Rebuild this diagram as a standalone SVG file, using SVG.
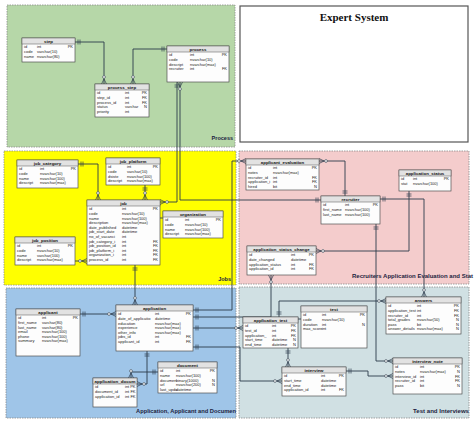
<svg xmlns="http://www.w3.org/2000/svg" width="474" height="440" viewBox="0 0 474 440">
<defs>
<style>
.t{font-family:"Liberation Sans",Arial,sans-serif;font-size:4px;fill:#222}
.k{text-anchor:end}
.h{font-family:"Liberation Sans",Arial,sans-serif;font-weight:bold;font-size:4.4px;fill:#111;text-anchor:middle}
.box{fill:#fdfdfd;stroke:#505050;stroke-width:0.7}
.hd{fill:#e2e2e2;stroke:#505050;stroke-width:0.5}
.c{fill:none;stroke:#2b3a4a;stroke-width:0.9}
.rg{stroke:#8a8a8a;stroke-width:0.8;stroke-dasharray:1.5 1}
.lbl{font-family:"Liberation Sans",Arial,sans-serif;font-weight:bold;font-size:5.5px;fill:#1c2340}
</style>
<marker id="one" viewBox="-7 -4 8 8" markerWidth="8" markerHeight="8" refX="0" refY="0" orient="auto-start-reverse" markerUnits="userSpaceOnUse">
<path d="M-3,-2.5V2.5M-5,-2.5V2.5" stroke="#2b3a4a" stroke-width="0.7" fill="none"/>
</marker>
<marker id="many" viewBox="-10 -4 11 8" markerWidth="11" markerHeight="8" refX="0" refY="0" orient="auto" markerUnits="userSpaceOnUse">
<path d="M-5,0L0,-2.5M-5,0L0,2.5" stroke="#2b3a4a" stroke-width="0.7" fill="none"/>
<circle cx="-7" cy="0" r="1.4" fill="#fff" stroke="#2b3a4a" stroke-width="0.6"/>
</marker>
</defs>
<rect width="474" height="440" fill="#fff"/>
<g id="regions">
<rect class="rg" x="7" y="5" width="228" height="142" fill="#b6d7a8"/>
<rect class="rg" x="4" y="151" width="232" height="134" fill="#ffff00"/>
<rect class="rg" x="239" y="151" width="230" height="133" fill="#f4cccc"/>
<rect class="rg" x="6" y="288" width="230" height="130" fill="#9fc5e8"/>
<rect class="rg" x="239" y="287" width="230" height="131" fill="#d0e0e3"/>
<text class="lbl" x="233" y="140" text-anchor="end">Process</text>
<text class="lbl" x="231" y="281" text-anchor="end">Jobs</text>
<text class="lbl" x="352" y="278" textLength="121" lengthAdjust="spacingAndGlyphs">Recruiters Application Evaluation and Stat</text>
<text class="lbl" x="136" y="413" textLength="100" lengthAdjust="spacingAndGlyphs">Application, Applicant and Documen</text>
<text class="lbl" x="413" y="413" textLength="56" lengthAdjust="spacingAndGlyphs">Test and Interviews</text>
</g>
<g id="expert-system">
<rect x="240" y="6" width="228" height="136" fill="#fff" stroke="#555" stroke-width="1.2"/>
<text x="354" y="21" text-anchor="middle" font-family="Liberation Serif, Times New Roman, serif" font-weight="bold" font-size="11" fill="#111">Expert System</text>
</g>
<g id="connectors">
<path class="c" d="M75,42H104V84" marker-start="url(#one)" marker-end="url(#many)"/>
<path class="c" d="M167,49H133V84" marker-start="url(#one)" marker-end="url(#many)"/>
<path class="c" d="M177,82V202H160" marker-start="url(#one)" marker-end="url(#many)"/>
<path class="c" d="M321,200H180V82" marker-start="url(#one)" marker-end="url(#many)"/>
<path class="c" d="M78,164H98V200" marker-start="url(#one)" marker-end="url(#many)"/>
<path class="c" d="M145,185V200" marker-start="url(#one)" marker-end="url(#many)"/>
<path class="c" d="M75,261H87" marker-end="url(#many)"/>
<path class="c" d="M163,218H160"/>
<path class="c" d="M135,265V305" marker-start="url(#one)" marker-end="url(#many)"/>
<path class="c" d="M193,310H232V161H246" marker-start="url(#one)" marker-end="url(#many)"/>
<path class="c" d="M80,314H116" marker-start="url(#one)" marker-end="url(#many)"/>
<path class="c" d="M193,317H271V275" marker-start="url(#one)" marker-end="url(#many)"/>
<path class="c" d="M193,328H243" marker-start="url(#one)" marker-end="url(#many)"/>
<path class="c" d="M193,347H240V381H282" marker-start="url(#one)" marker-end="url(#many)"/>
<path class="c" d="M147,351V384H137" marker-start="url(#one)" marker-end="url(#many)"/>
<path class="c" d="M158,372H131V378" marker-start="url(#one)" marker-end="url(#many)"/>
<path class="c" d="M345,196V161H319" marker-start="url(#one)" marker-end="url(#many)"/>
<path class="c" d="M380,199H424V297" marker-start="url(#one)" marker-end="url(#many)"/>
<path class="c" d="M376,224V361H393" marker-start="url(#one)" marker-end="url(#many)"/>
<path class="c" d="M409,191V251H316" marker-start="url(#one)" marker-end="url(#many)"/>
<path class="c" d="M279,317V301H386" marker-start="url(#one)" marker-end="url(#many)"/>
<path class="c" d="M301,319H298"/>
<path class="c" d="M288,348V367" marker-start="url(#one)" marker-end="url(#many)"/>
<path class="c" d="M346,371H368V376H393" marker-start="url(#one)" marker-end="url(#many)"/>
</g>
<g id="step" transform="translate(22,38)">
<rect class="box" width="53" height="24"/><rect class="hd" width="53" height="6"/><text class="h" x="26.5" y="4.6">step</text>
<text class="t"><tspan x="2" y="10.3">id</tspan><tspan x="2" y="14.9">code</tspan><tspan x="2" y="19.5">name</tspan></text>
<text class="t"><tspan x="15" y="10.3">int</tspan><tspan x="15" y="14.9">varchar(10)</tspan><tspan x="15" y="19.5">nvarchar(80)</tspan></text>
<text class="t k"><tspan x="51" y="10.3">PK</tspan></text>
</g>
<g id="process" transform="translate(167,46)">
<rect class="box" width="62" height="36"/><rect class="hd" width="62" height="6"/><text class="h" x="31" y="4.6">process</text>
<text class="t"><tspan x="2" y="10.3">id</tspan><tspan x="2" y="14.9">code</tspan><tspan x="2" y="19.5">descript</tspan><tspan x="2" y="24.1">recruiter</tspan></text>
<text class="t"><tspan x="23" y="10.3">int</tspan><tspan x="23" y="14.9">nvarchar(10)</tspan><tspan x="23" y="19.5">nvarchar(max)</tspan><tspan x="23" y="24.1">int</tspan></text>
<text class="t k"><tspan x="60" y="10.3">PK</tspan><tspan x="60" y="24.1">FK</tspan></text>
</g>
<g id="process_step" transform="translate(95,84)">
<rect class="box" width="54" height="33"/><rect class="hd" width="54" height="6"/><text class="h" x="27" y="4.6">process_step</text>
<text class="t"><tspan x="2" y="10.3">id</tspan><tspan x="2" y="14.9">step_id</tspan><tspan x="2" y="19.5">process_id</tspan><tspan x="2" y="24.1">status</tspan><tspan x="2" y="28.7">priority</tspan></text>
<text class="t"><tspan x="30" y="10.3">int</tspan><tspan x="30" y="14.9">int</tspan><tspan x="30" y="19.5">int</tspan><tspan x="30" y="24.1">varchar</tspan><tspan x="30" y="28.7">int</tspan></text>
<text class="t k"><tspan x="52" y="10.3">PK</tspan><tspan x="52" y="14.9">FK</tspan><tspan x="52" y="19.5">FK</tspan><tspan x="52" y="24.1">N</tspan></text>
</g>
<g id="job_category" transform="translate(17,160)">
<rect class="box" width="61" height="28"/><rect class="hd" width="61" height="6"/><text class="h" x="30.5" y="4.6">job_category</text>
<text class="t"><tspan x="2" y="10.3">id</tspan><tspan x="2" y="14.9">code</tspan><tspan x="2" y="19.5">name</tspan><tspan x="2" y="24.1">descript</tspan></text>
<text class="t"><tspan x="23" y="10.3">int</tspan><tspan x="23" y="14.9">nvarchar(10)</tspan><tspan x="23" y="19.5">nvarchar(100)</tspan><tspan x="23" y="24.1">nvarchar(max)</tspan></text>
<text class="t k"><tspan x="59" y="10.3">PK</tspan></text>
</g>
<g id="job_platform" transform="translate(106,158)">
<rect class="box" width="54" height="27"/><rect class="hd" width="54" height="6"/><text class="h" x="27" y="4.6">job_platform</text>
<text class="t"><tspan x="2" y="10.3">id</tspan><tspan x="2" y="14.9">code</tspan><tspan x="2" y="19.5">dsiste</tspan><tspan x="2" y="24.1">descript</tspan></text>
<text class="t"><tspan x="21" y="10.3">int</tspan><tspan x="21" y="14.9">varchar(10)</tspan><tspan x="21" y="19.5">nvarchar(100)</tspan><tspan x="21" y="24.1">nvarchar(max)</tspan></text>
<text class="t k"><tspan x="52" y="10.3">PK</tspan></text>
</g>
<g id="job" transform="translate(87,200)">
<rect class="box" width="73" height="65"/><rect class="hd" width="73" height="6"/><text class="h" x="36.5" y="4.6">job</text>
<text class="t"><tspan x="2" y="10.3">id</tspan><tspan x="2" y="14.9">code</tspan><tspan x="2" y="19.5">name</tspan><tspan x="2" y="24.1">description</tspan><tspan x="2" y="28.7">date_published</tspan><tspan x="2" y="33.3">job_start_date</tspan><tspan x="2" y="37.9">no_of_vacanci</tspan><tspan x="2" y="42.5">job_category_i</tspan><tspan x="2" y="47.1">job_position_id</tspan><tspan x="2" y="51.7">job_platform_i</tspan><tspan x="2" y="56.3">organization_i</tspan><tspan x="2" y="60.9">process_id</tspan></text>
<text class="t"><tspan x="35" y="10.3">int</tspan><tspan x="35" y="14.9">nvarchar(10)</tspan><tspan x="35" y="19.5">nvarchar(100)</tspan><tspan x="35" y="24.1">nvarchar(max)</tspan><tspan x="35" y="28.7">datetime</tspan><tspan x="35" y="33.3">datetime</tspan><tspan x="35" y="37.9">int</tspan><tspan x="35" y="42.5">int</tspan><tspan x="35" y="47.1">int</tspan><tspan x="35" y="51.7">int</tspan><tspan x="35" y="56.3">int</tspan><tspan x="35" y="60.9">int</tspan></text>
<text class="t k"><tspan x="71" y="10.3">PK</tspan><tspan x="71" y="42.5">FK</tspan><tspan x="71" y="47.1">FK</tspan><tspan x="71" y="51.7">FK</tspan><tspan x="71" y="56.3">FK</tspan><tspan x="71" y="60.9">FK</tspan></text>
</g>
<g id="organization" transform="translate(163,211)">
<rect class="box" width="60" height="27"/><rect class="hd" width="60" height="6"/><text class="h" x="30" y="4.6">organization</text>
<text class="t"><tspan x="2" y="10.3">id</tspan><tspan x="2" y="14.9">code</tspan><tspan x="2" y="19.5">name</tspan><tspan x="2" y="24.1">descript</tspan></text>
<text class="t"><tspan x="22" y="10.3">int</tspan><tspan x="22" y="14.9">nvarchar(10)</tspan><tspan x="22" y="19.5">nvarchar(100)</tspan><tspan x="22" y="24.1">nvarchar(max)</tspan></text>
<text class="t k"><tspan x="58" y="10.3">PK</tspan></text>
</g>
<g id="job_position" transform="translate(15,237)">
<rect class="box" width="60" height="28"/><rect class="hd" width="60" height="6"/><text class="h" x="30" y="4.6">job_position</text>
<text class="t"><tspan x="2" y="10.3">id</tspan><tspan x="2" y="14.9">code</tspan><tspan x="2" y="19.5">name</tspan><tspan x="2" y="24.1">descript</tspan></text>
<text class="t"><tspan x="22" y="10.3">int</tspan><tspan x="22" y="14.9">nvarchar(10)</tspan><tspan x="22" y="19.5">varchar(100)</tspan><tspan x="22" y="24.1">nvarchar(max)</tspan></text>
<text class="t k"><tspan x="58" y="10.3">PK</tspan></text>
</g>
<g id="applicant" transform="translate(16,309)">
<rect class="box" width="64" height="47"/><rect class="hd" width="64" height="6"/><text class="h" x="32" y="4.6">applicant</text>
<text class="t"><tspan x="2" y="10.3">id</tspan><tspan x="2" y="14.9">first_name</tspan><tspan x="2" y="19.5">last_name</tspan><tspan x="2" y="24.1">email</tspan><tspan x="2" y="28.7">phone</tspan><tspan x="2" y="33.3">summary</tspan></text>
<text class="t"><tspan x="26" y="10.3">int</tspan><tspan x="26" y="14.9">varchar(80)</tspan><tspan x="26" y="19.5">varchar(80)</tspan><tspan x="26" y="24.1">nvarchar(100)</tspan><tspan x="26" y="28.7">nvarchar(100)</tspan><tspan x="26" y="33.3">nvarchar(max)</tspan></text>
<text class="t k"><tspan x="62" y="10.3">PK</tspan></text>
</g>
<g id="application" transform="translate(116,305)">
<rect class="box" width="77" height="46"/><rect class="hd" width="77" height="6"/><text class="h" x="38.5" y="4.6">application</text>
<text class="t"><tspan x="2" y="10.3">id</tspan><tspan x="2" y="14.9">date_of_applicatio</tspan><tspan x="2" y="19.5">education</tspan><tspan x="2" y="24.1">experience</tspan><tspan x="2" y="28.7">other_info</tspan><tspan x="2" y="33.3">jobs_id</tspan><tspan x="2" y="37.9">applicant_id</tspan></text>
<text class="t"><tspan x="39" y="10.3">int</tspan><tspan x="39" y="14.9">datetime</tspan><tspan x="39" y="19.5">nvarchar(max)</tspan><tspan x="39" y="24.1">nvarchar(max)</tspan><tspan x="39" y="28.7">nvarchar(max)</tspan><tspan x="39" y="33.3">int</tspan><tspan x="39" y="37.9">int</tspan></text>
<text class="t k"><tspan x="75" y="10.3">PK</tspan><tspan x="75" y="33.3">FK</tspan><tspan x="75" y="37.9">FK</tspan></text>
</g>
<g id="document" transform="translate(158,362)">
<rect class="box" width="59" height="31"/><rect class="hd" width="59" height="6"/><text class="h" x="29.5" y="4.6">document</text>
<text class="t"><tspan x="2" y="10.3">id</tspan><tspan x="2" y="14.9">name</tspan><tspan x="2" y="19.5">documen</tspan><tspan x="2" y="24.1">url</tspan><tspan x="2" y="28.7">last_upda</tspan></text>
<text class="t"><tspan x="18" y="10.3">int</tspan><tspan x="18" y="14.9">nvarchar(100)</tspan><tspan x="18" y="19.5">binary(1000)</tspan><tspan x="18" y="24.1">nvarchar(200)</tspan><tspan x="18" y="28.7">datetime</tspan></text>
<text class="t k"><tspan x="57" y="10.3">PK</tspan><tspan x="57" y="19.5">N</tspan><tspan x="57" y="24.1">N</tspan></text>
</g>
<g id="application_document" transform="translate(93,378)">
<rect class="box" width="44" height="29"/><rect class="hd" width="44" height="6"/><text class="h" x="22" y="4.6" textLength="41" lengthAdjust="spacingAndGlyphs">application_docum</text>
<text class="t"><tspan x="2" y="10.3">id</tspan><tspan x="2" y="14.9">document_id</tspan><tspan x="2" y="19.5">application_id</tspan></text>
<text class="t"><tspan x="32" y="10.3">int</tspan><tspan x="32" y="14.9">int</tspan><tspan x="32" y="19.5">int</tspan></text>
<text class="t k"><tspan x="42.5" y="10.3">PK</tspan><tspan x="42.5" y="14.9">FK</tspan><tspan x="42.5" y="19.5">FK</tspan></text>
</g>
<g id="applicant_evaluation" transform="translate(246,159)">
<rect class="box" width="73" height="31"/><rect class="hd" width="73" height="6"/><text class="h" x="36.5" y="4.6">applicant_evaluation</text>
<text class="t"><tspan x="2" y="10.3">id</tspan><tspan x="2" y="14.9">notes</tspan><tspan x="2" y="19.5">recruiter_id</tspan><tspan x="2" y="24.1">application_i</tspan><tspan x="2" y="28.7">hired</tspan></text>
<text class="t"><tspan x="27" y="10.3">int</tspan><tspan x="27" y="14.9">nvarchar(max)</tspan><tspan x="27" y="19.5">int</tspan><tspan x="27" y="24.1">int</tspan><tspan x="27" y="28.7">bit</tspan></text>
<text class="t k"><tspan x="71" y="10.3">PK</tspan><tspan x="71" y="19.5">FK</tspan><tspan x="71" y="24.1">FK</tspan><tspan x="71" y="28.7">N</tspan></text>
</g>
<g id="recruiter" transform="translate(321,196)">
<rect class="box" width="59" height="28"/><rect class="hd" width="59" height="6"/><text class="h" x="29.5" y="4.6">recruiter</text>
<text class="t"><tspan x="2" y="10.3">id</tspan><tspan x="2" y="14.9">first_name</tspan><tspan x="2" y="19.5">last_name</tspan></text>
<text class="t"><tspan x="24" y="10.3">int</tspan><tspan x="24" y="14.9">nvarchar(100)</tspan><tspan x="24" y="19.5">nvarchar(100)</tspan></text>
<text class="t k"><tspan x="57" y="10.3">PK</tspan></text>
</g>
<g id="application_status" transform="translate(399,170)">
<rect class="box" width="52" height="21"/><rect class="hd" width="52" height="6"/><text class="h" x="26" y="4.6">application_status</text>
<text class="t"><tspan x="2" y="10.3">id</tspan><tspan x="2" y="14.9">stat</tspan></text>
<text class="t"><tspan x="14" y="10.3">int</tspan><tspan x="14" y="14.9">nvarchar(100)</tspan></text>
<text class="t k"><tspan x="50" y="10.3">PK</tspan></text>
</g>
<g id="application_status_change" transform="translate(247,246)">
<rect class="box" width="69" height="29"/><rect class="hd" width="69" height="6"/><text class="h" x="34.5" y="4.6">application_status_change</text>
<text class="t"><tspan x="2" y="10.3">id</tspan><tspan x="2" y="14.9">date_changed</tspan><tspan x="2" y="19.5">application_status</tspan><tspan x="2" y="24.1">application_id</tspan></text>
<text class="t"><tspan x="44" y="10.3">int</tspan><tspan x="44" y="14.9">datetime</tspan><tspan x="44" y="19.5">int</tspan><tspan x="44" y="24.1">int</tspan></text>
<text class="t k"><tspan x="67" y="10.3">PK</tspan><tspan x="67" y="19.5">FK</tspan><tspan x="67" y="24.1">FK</tspan></text>
</g>
<g id="application_test" transform="translate(243,317)">
<rect class="box" width="55" height="31"/><rect class="hd" width="55" height="6"/><text class="h" x="27.5" y="4.6">application_test</text>
<text class="t"><tspan x="2" y="10.3">id</tspan><tspan x="2" y="14.9">test_id</tspan><tspan x="2" y="19.5">application_</tspan><tspan x="2" y="24.1">start_time</tspan><tspan x="2" y="28.7">end_time</tspan></text>
<text class="t"><tspan x="29" y="10.3">int</tspan><tspan x="29" y="14.9">int</tspan><tspan x="29" y="19.5">int</tspan><tspan x="29" y="24.1">datetime</tspan><tspan x="29" y="28.7">datetime</tspan></text>
<text class="t k"><tspan x="53" y="10.3">PK</tspan><tspan x="53" y="14.9">FK</tspan><tspan x="53" y="19.5">FK</tspan><tspan x="53" y="24.1">N</tspan><tspan x="53" y="28.7">N</tspan></text>
</g>
<g id="test" transform="translate(301,306)">
<rect class="box" width="66" height="42"/><rect class="hd" width="66" height="6"/><text class="h" x="33" y="4.6">test</text>
<text class="t"><tspan x="2" y="10.3">id</tspan><tspan x="2" y="14.9">code</tspan><tspan x="2" y="19.5">duration</tspan><tspan x="2" y="24.1">max_score</tspan></text>
<text class="t"><tspan x="21" y="10.3">int</tspan><tspan x="21" y="14.9">nvarchar(10)</tspan><tspan x="21" y="19.5">int</tspan><tspan x="21" y="24.1">int</tspan></text>
<text class="t k"><tspan x="64" y="10.3">PK</tspan><tspan x="64" y="19.5">N</tspan></text>
</g>
<g id="interview" transform="translate(282,367)">
<rect class="box" width="64" height="29"/><rect class="hd" width="64" height="6"/><text class="h" x="32" y="4.6">interview</text>
<text class="t"><tspan x="2" y="10.3">id</tspan><tspan x="2" y="14.9">start_time</tspan><tspan x="2" y="19.5">end_time</tspan><tspan x="2" y="24.1">application_id</tspan></text>
<text class="t"><tspan x="39" y="10.3">int</tspan><tspan x="39" y="14.9">datetime</tspan><tspan x="39" y="19.5">datetime</tspan><tspan x="39" y="24.1">int</tspan></text>
<text class="t k"><tspan x="62" y="10.3">PK</tspan><tspan x="62" y="24.1">FK</tspan></text>
</g>
<g id="answers" transform="translate(386,297)">
<rect class="box" width="75" height="37"/><rect class="hd" width="75" height="6"/><text class="h" x="37.5" y="4.6">answers</text>
<text class="t"><tspan x="2" y="10.3">id</tspan><tspan x="2" y="14.9">application_test</tspan><tspan x="2" y="19.5">recruiter_id</tspan><tspan x="2" y="24.1">total_grades</tspan><tspan x="2" y="28.7">pass</tspan><tspan x="2" y="33.3">answer_details</tspan></text>
<text class="t"><tspan x="31" y="10.3">int</tspan><tspan x="31" y="14.9">int</tspan><tspan x="31" y="19.5">int</tspan><tspan x="31" y="24.1">nvarchar(50)</tspan><tspan x="31" y="28.7">bit</tspan><tspan x="31" y="33.3">nvarchar(max)</tspan></text>
<text class="t k"><tspan x="73" y="10.3">PK</tspan><tspan x="73" y="14.9">FK</tspan><tspan x="73" y="19.5">FK</tspan><tspan x="73" y="24.1">N</tspan><tspan x="73" y="28.7">N</tspan><tspan x="73" y="33.3">N</tspan></text>
</g>
<g id="interview_note" transform="translate(393,358)">
<rect class="box" width="69" height="36"/><rect class="hd" width="69" height="6"/><text class="h" x="34.5" y="4.6">interview_note</text>
<text class="t"><tspan x="2" y="10.3">id</tspan><tspan x="2" y="14.9">notes</tspan><tspan x="2" y="19.5">interview_id</tspan><tspan x="2" y="24.1">recruiter_id</tspan><tspan x="2" y="28.7">pass</tspan></text>
<text class="t"><tspan x="27" y="10.3">int</tspan><tspan x="27" y="14.9">nvarchar(max)</tspan><tspan x="27" y="19.5">int</tspan><tspan x="27" y="24.1">int</tspan><tspan x="27" y="28.7">bit</tspan></text>
<text class="t k"><tspan x="67" y="10.3">PK</tspan><tspan x="67" y="14.9">N</tspan><tspan x="67" y="19.5">FK</tspan><tspan x="67" y="24.1">FK</tspan><tspan x="67" y="28.7">N</tspan></text>
</g>
</svg>
